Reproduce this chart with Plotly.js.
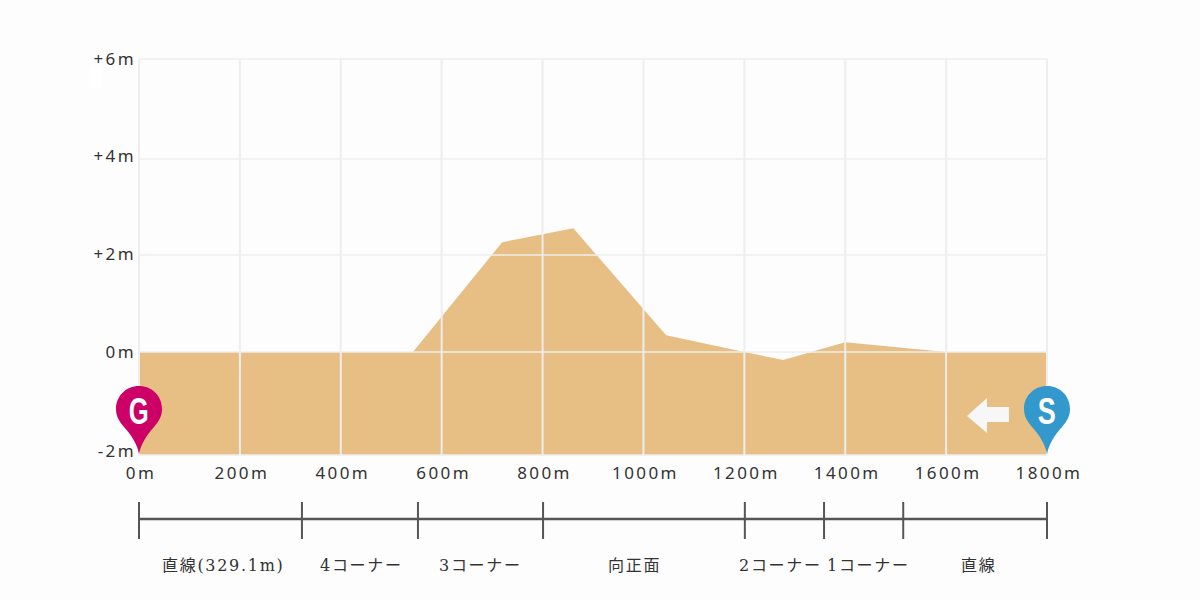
<!DOCTYPE html>
<html><head><meta charset="utf-8">
<script src="https://cdn.plot.ly/plotly-3.0.1.min.js"></script>
<style>
html,body{margin:0;padding:0;background:#fdfdfd}
.xtick text,.ytick text{letter-spacing:2.4px}
.annotation-text{letter-spacing:1.7px}
</style></head><body>
<div id="chart" style="width:1200px;height:600px"></div>
<script>
// elevation profile
const distance = [0, 543, 720, 861, 1045, 1200, 1277, 1400, 1600, 1800];
const elevation = [0.08, 0.08, 2.3, 2.58, 0.42, 0.08, -0.08, 0.28, 0.08, 0.08];
const xTicks = [0,200,400,600,800,1000,1200,1400,1600,1800];
const xLabels = ['0m','200m','400m','600m','800m','1000m','1200m','1400m','1600m','1800m'];
const yGrid = [-2, 0.08, 2.04, 3.98, 6];
const yLabelAt = [-1.92, 0.08, 2.06, 4.04, 6];
const yLabels = ['-2m','0m','+2m','+4m','+6m'];
const sectionEdges = [0, 323, 553, 801, 1201, 1358, 1515, 1800];
const sectionNames = ['直線(329.1m)','4コーナー','3コーナー','向正面','2コーナー','1コーナー','直線'];
const sectionLabelX = [167, 442, 676, 983, 1272, 1447, 1664];

const W=1200,H=600,L=138,R=1048,T=58,B=540;
const plotH=B-T, plotW=R-L, yBottom=456;
const dom1=[(B-yBottom)/plotH,1], dom2=[0,40/plotH];
const fillC='#e7be84', gridC='#eeeeee', rulerC='#555555';
const px=v=>(v-L)/plotW, py=v=>(B-v)/plotH;

const tickX=[],tickY=[];
sectionEdges.forEach(e=>{tickX.push(e,e,null);tickY.push(1,38,null);});

const traces=[
 {x:[0,...distance,1800],y:[-2,...elevation,-2],mode:'lines',fill:'toself',fillcolor:fillC,line:{width:0,color:fillC},hoverinfo:'skip',showlegend:false},
 {x:[0,1800],y:[21,21],yaxis:'y2',mode:'lines',line:{color:rulerC,width:2.5},hoverinfo:'skip',showlegend:false},
 {x:tickX,y:tickY,yaxis:'y2',mode:'lines',line:{color:rulerC,width:2},hoverinfo:'skip',showlegend:false}
];

const shapes=[];
xTicks.forEach(v=>shapes.push({type:'line',xref:'x',yref:'y',x0:v,x1:v,y0:-2,y1:6,layer:'above',line:{color:gridC,width:2}}));
yGrid.forEach(v=>shapes.push({type:'line',xref:'x',yref:'y',x0:0,x1:1800,y0:v,y1:v,layer:'above',line:{color:gridC,width:1.5}}));

// pins & arrow: pixel-sized shapes anchored on paper (y up)
const pinPath='M0,0 C-2,10 -7,18 -15,27 C-20,33 -23,38 -23,45 C-23,58 -13,68 0,68 C13,68 23,58 23,45 C23,38 20,33 15,27 C7,18 2,10 0,0 Z';
const yAnchor=py(454);
function pin(xv,color){return {type:'path',xref:'paper',yref:'paper',xsizemode:'pixel',ysizemode:'pixel',xanchor:px(xv),yanchor:yAnchor,path:pinPath,fillcolor:color,line:{width:0},layer:'above'};}
shapes.push(pin(139,'#cc0066'),pin(1047,'#3399cc'));
shapes.push({type:'path',xref:'paper',yref:'paper',xsizemode:'pixel',ysizemode:'pixel',xanchor:px(1047),yanchor:yAnchor,
 path:'M-80,38 L-60,56 L-60,47 L-38,47 L-38,32 L-60,32 L-60,21 Z',fillcolor:'#f7f7f7',line:{width:0},layer:'above'});
shapes.push({type:'rect',xref:'paper',yref:'paper',x0:px(89),x1:px(102),y0:py(88),y1:py(65),fillcolor:'#ffffff',line:{width:0},layer:'below'});

const annotations=sectionNames.map((n,i)=>({text:n,xref:'x',yref:'paper',x:sectionLabelX[i],y:py(565),xanchor:'center',yanchor:'middle',showarrow:false,
 font:{family:'"DejaVu Serif","Noto Sans CJK JP",serif',size:16,color:'#333'}}));
[['G',139],['S',1047]].forEach(([t,xv])=>annotations.push({text:t,xref:'paper',yref:'paper',x:px(xv),y:py(411),xanchor:'center',yanchor:'middle',showarrow:false,
 font:{family:'"Liberation Sans",sans-serif',size:36,weight:700,color:'#fff'}}));

const xPad=1*1800/908, yPad=1*8/396;
const layout={width:W,height:H,margin:{l:L,r:W-R,t:T,b:H-B,pad:0},paper_bgcolor:'#fdfdfd',plot_bgcolor:'rgba(0,0,0,0)',showlegend:false,
 xaxis:{range:[-xPad,1800+xPad],tickvals:xTicks,ticktext:xLabels,anchor:'y',showgrid:false,zeroline:false,showline:false,ticks:'',ticklabelstandoff:5,
   tickfont:{family:'"Noto Sans",sans-serif',size:17,color:'#333'}},
 yaxis:{domain:dom1,range:[-2-yPad,6+yPad],tickvals:yLabelAt,ticktext:yLabels,showgrid:false,zeroline:false,showline:false,ticks:'',ticklabelstandoff:1,
   tickfont:{family:'"Noto Sans",sans-serif',size:17,color:'#333'}},
 yaxis2:{domain:dom2,range:[0,40],visible:false,anchor:'x'},
 shapes,annotations};
Plotly.newPlot('chart',traces,layout,{displayModeBar:false,staticPlot:true}).then(()=>{
  // condense the pin letters to the reference's narrow glyph width
  document.querySelectorAll('.annotation-text').forEach(t=>{
    if(t.textContent==='G'||t.textContent==='S'){
      t.style.letterSpacing='0';
      t.setAttribute('textLength',t.textContent==='G'?'20':'18');
      t.setAttribute('lengthAdjust','spacingAndGlyphs');
    }
  });
  document.querySelectorAll('.xtick text').forEach(t=>t.setAttribute('dx','2'));
});
</script></body></html>
